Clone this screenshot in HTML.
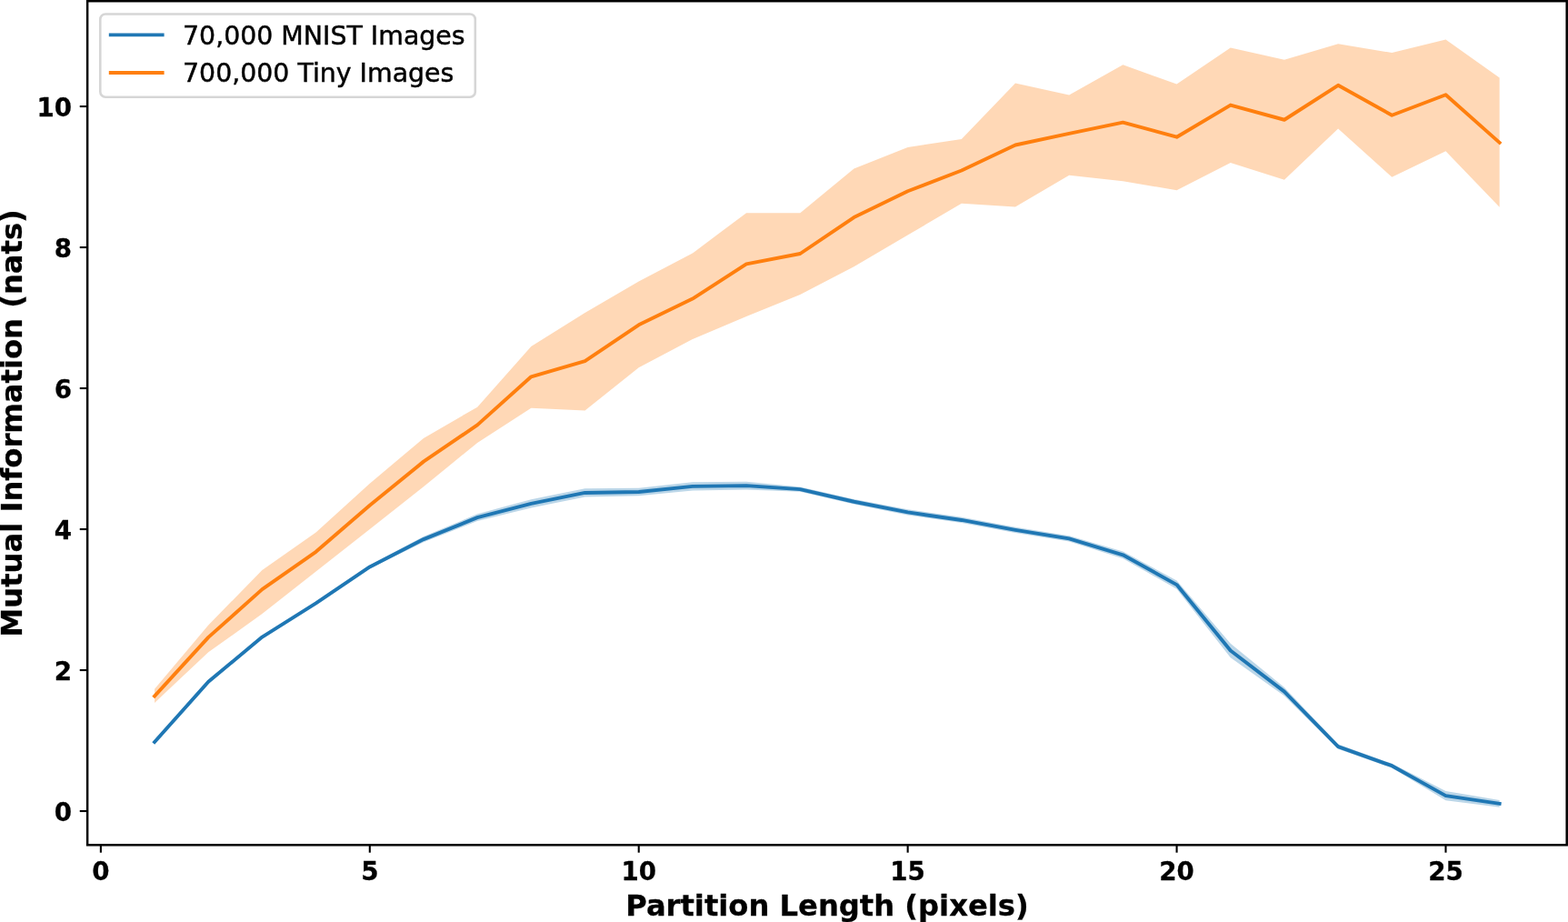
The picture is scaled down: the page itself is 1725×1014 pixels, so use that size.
<!DOCTYPE html>
<html><head><meta charset="utf-8"><title>Mutual Information vs Partition Length</title>
<style>html,body{margin:0;padding:0;background:#fff;}body{width:1725px;height:1014px;overflow:hidden;}svg{display:block;}</style>
</head><body>
<svg width="1725" height="1014" viewBox="0 0 1725 1014">
<rect x="0" y="0" width="1725" height="1014" fill="#ffffff"/>
<polygon points="170.06,814.53 229.25,747.41 288.43,699.05 347.62,661.86 406.8,621.48 465.98,590.01 525.17,565.29 584.35,549.17 643.54,537.31 702.72,536.77 761.9,530.26 821.09,529.87 880.27,535.38 939.46,549.01 998.64,560.33 1057.82,568.86 1117.01,579.7 1176.19,589.24 1235.38,606.44 1294.56,638.45 1353.74,707.81 1412.93,756.02 1472.11,818.4 1531.3,839.87 1590.48,870.1 1649.66,879.94 1649.66,887.69 1590.48,880.17 1531.3,844.52 1472.11,823.83 1412.93,765.32 1353.74,723.31 1294.56,647.75 1235.38,614.19 1176.19,595.44 1117.01,585.9 1057.82,575.06 998.64,566.53 939.46,554.44 880.27,540.8 821.09,538.4 761.9,539.56 702.72,545.29 643.54,546.61 584.35,558.47 525.17,573.04 465.98,596.21 406.8,625.35 347.62,664.95 288.43,702.15 229.25,752.06 170.06,817.63" fill="#1f77b4" fill-opacity="0.3"/>
<polygon points="170.06,757.64 229.25,687.43 288.43,626.98 347.62,585.52 406.8,531.65 465.98,482.05 525.17,447.64 584.35,380.99 643.54,344.1 702.72,309.46 761.9,278.46 821.09,234.13 880.27,234.13 939.46,185.46 998.64,161.98 1057.82,153.07 1117.01,91.45 1176.19,104.4 1235.38,71.3 1294.56,92.62 1353.74,52.39 1412.93,65.65 1472.11,48.21 1531.3,58.05 1590.48,43.56 1649.66,85.56 1649.66,227.85 1590.48,166.32 1531.3,194.76 1472.11,141.52 1412.93,197.86 1353.74,179.03 1294.56,209.25 1235.38,199.18 1176.19,192.67 1117.01,227.62 1057.82,223.67 998.64,258.54 939.46,293.34 880.27,323.95 821.09,347.98 761.9,373.09 702.72,404.17 643.54,451.44 584.35,448.73 525.17,487.01 465.98,535.14 406.8,582.03 347.62,628.53 288.43,675.03 229.25,717.35 170.06,772.91" fill="#ff7f0e" fill-opacity="0.3"/>
<polyline points="170.06,816.08 229.25,749.74 288.43,700.61 347.62,663.4 406.8,623.41 465.98,593.11 525.17,569.16 584.35,553.82 643.54,541.96 702.72,541.03 761.9,534.91 821.09,534.13 880.27,538.09 939.46,551.73 998.64,563.43 1057.82,571.95 1117.01,582.8 1176.19,592.34 1235.38,610.32 1294.56,643.1 1353.74,715.56 1412.93,760.67 1472.11,821.12 1531.3,842.2 1590.48,875.13 1649.66,883.81" fill="none" stroke="#1f77b4" stroke-width="3.9" stroke-linejoin="round" stroke-linecap="square"/>
<polyline points="170.06,765.55 229.25,700.84 288.43,648.14 347.62,606.83 406.8,555.68 465.98,507.63 525.17,467.33 584.35,414.32 643.54,397.19 702.72,357.28 761.9,328.61 821.09,290.32 880.27,279 939.46,239.09 998.64,210.26 1057.82,187.55 1117.01,159.5 1176.19,146.87 1235.38,134.62 1294.56,150.74 1353.74,115.56 1412.93,131.75 1472.11,93.78 1531.3,126.72 1590.48,104.24 1649.66,156.86" fill="none" stroke="#ff7f0e" stroke-width="3.9" stroke-linejoin="round" stroke-linecap="square"/>
<g stroke="#000" stroke-width="2.1"><line x1="110.88" y1="929.3" x2="110.88" y2="937.7"/><line x1="406.8" y1="929.3" x2="406.8" y2="937.7"/><line x1="702.72" y1="929.3" x2="702.72" y2="937.7"/><line x1="998.64" y1="929.3" x2="998.64" y2="937.7"/><line x1="1294.56" y1="929.3" x2="1294.56" y2="937.7"/><line x1="1590.48" y1="929.3" x2="1590.48" y2="937.7"/><line x1="87.75" y1="892.03" x2="96.15" y2="892.03"/><line x1="87.75" y1="737.03" x2="96.15" y2="737.03"/><line x1="87.75" y1="582.03" x2="96.15" y2="582.03"/><line x1="87.75" y1="427.03" x2="96.15" y2="427.03"/><line x1="87.75" y1="272.03" x2="96.15" y2="272.03"/><line x1="87.75" y1="117.03" x2="96.15" y2="117.03"/></g>
<rect x="96.15" y="1.2" width="1627.55" height="928.1" fill="none" stroke="#000" stroke-width="2.5" stroke-linejoin="miter"/>
<g font-family='"DejaVu Sans", "Liberation Sans", sans-serif' font-weight="bold" font-size="27.7" fill="#000" stroke="#000" stroke-width="0.3"><text x="110.88" y="968" text-anchor="middle">0</text><text x="406.8" y="968" text-anchor="middle">5</text><text x="702.72" y="968" text-anchor="middle">10</text><text x="998.64" y="968" text-anchor="middle">15</text><text x="1294.56" y="968" text-anchor="middle">20</text><text x="1590.48" y="968" text-anchor="middle">25</text><text x="79.1" y="902.63" text-anchor="end">0</text><text x="79.1" y="747.63" text-anchor="end">2</text><text x="79.1" y="592.63" text-anchor="end">4</text><text x="79.1" y="437.63" text-anchor="end">6</text><text x="79.1" y="282.63" text-anchor="end">8</text><text x="79.1" y="127.63" text-anchor="end">10</text></g>
<text x="909.9" y="1007.2" text-anchor="middle" font-family='"DejaVu Sans", "Liberation Sans", sans-serif' font-weight="bold" font-size="32.2" stroke="#000" stroke-width="0.3">Partition Length (pixels)</text>
<text transform="translate(23.9,465.5) rotate(-90)" x="0" y="0" text-anchor="middle" font-family='"DejaVu Sans", "Liberation Sans", sans-serif' font-weight="bold" font-size="32.2" stroke="#000" stroke-width="0.3">Mutual Information (nats)</text>
<rect x="110.3" y="15.5" width="412.5" height="91.2" rx="5.7" ry="5.7" fill="#ffffff" fill-opacity="0.8" stroke="#cccccc" stroke-opacity="0.8" stroke-width="2.6"/>
<line x1="119.8" y1="38.4" x2="180.6" y2="38.4" stroke="#1f77b4" stroke-width="3.9"/>
<line x1="119.8" y1="80.0" x2="180.6" y2="80.0" stroke="#ff7f0e" stroke-width="3.9"/>
<g font-family='"DejaVu Sans", "Liberation Sans", sans-serif' font-size="28.4" fill="#000" stroke="#000" stroke-width="0.45"><text x="201" y="48.8">70,000 MNIST Images</text><text x="201" y="90.4">700,000 Tiny Images</text></g>
</svg>
</body></html>
